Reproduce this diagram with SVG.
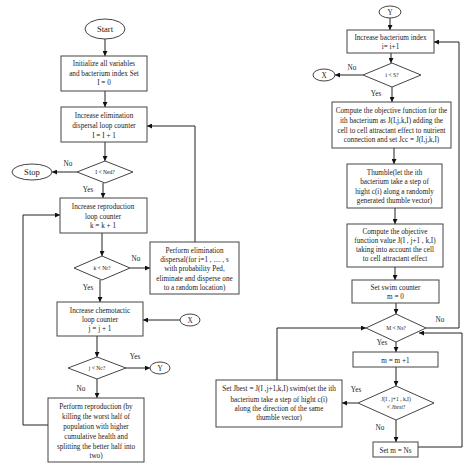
<svg xmlns="http://www.w3.org/2000/svg" width="474" height="472" viewBox="0 0 474 472" xml:space="preserve">
<defs>
<marker id="ah" markerWidth="5" markerHeight="5" refX="5" refY="2.5" orient="auto" markerUnits="userSpaceOnUse">
<path d="M0,0 L5,2.5 L0,5 z" fill="#111"/>
</marker>
</defs>
<style>
.b{fill:#fff;stroke:#444;stroke-width:1}
.c{fill:none;stroke:#222;stroke-width:1;marker-end:url(#ah)}
text{font-family:"Liberation Serif","Times New Roman",serif;font-size:7.2px;fill:#222;text-anchor:middle}
.s{font-size:5.6px}
.t{font-size:8.6px}
</style>
<rect width="474" height="472" fill="#fff"/>
<g id="connectors">
<line class="c" x1="105" y1="39" x2="105" y2="56"/>
<line class="c" x1="105" y1="91" x2="105" y2="107"/>
<line class="c" x1="105" y1="142" x2="105" y2="161"/>
<line class="c" x1="77" y1="172" x2="52" y2="172"/>
<line class="c" x1="103" y1="183" x2="103" y2="198"/>
<line class="c" x1="102" y1="233" x2="102" y2="256"/>
<line class="c" x1="130" y1="268" x2="150" y2="268"/>
<polyline class="c" points="195,242 195,126 147,126"/>
<line class="c" x1="100" y1="280" x2="100" y2="302"/>
<line class="c" x1="180" y1="320" x2="143" y2="320"/>
<line class="c" x1="97" y1="336" x2="97" y2="357"/>
<line class="c" x1="126" y1="368" x2="150" y2="368"/>
<line class="c" x1="97" y1="379" x2="97" y2="398"/>
<polyline class="c" points="48,425 23,425 23,215 60,215"/>
<line class="c" x1="390" y1="18" x2="390" y2="30"/>
<line class="c" x1="391" y1="53" x2="391" y2="63"/>
<line class="c" x1="363" y1="75" x2="335" y2="75"/>
<line class="c" x1="392" y1="87" x2="392" y2="102"/>
<line class="c" x1="394" y1="148" x2="394" y2="164"/>
<line class="c" x1="395" y1="208" x2="395" y2="224"/>
<line class="c" x1="395" y1="267" x2="395" y2="280"/>
<line class="c" x1="396" y1="303" x2="396" y2="314"/>
<polyline class="c" points="426,328 459,328 459,42 434,42"/>
<line class="c" x1="396" y1="342" x2="396" y2="352"/>
<line class="c" x1="396" y1="367" x2="396" y2="386"/>
<line class="c" x1="358" y1="403" x2="342" y2="403"/>
<polyline class="c" points="277,380 277,328 366,328"/>
<line class="c" x1="396" y1="420" x2="396" y2="442"/>
<polyline class="c" points="418,447 462,447 462,333 419,333"/>
<text x="68" y="166">No</text>
<text x="88" y="192">Yes</text>
<text x="136" y="261">No</text>
<text x="88" y="290">Yes</text>
<text x="135" y="359">Yes</text>
<text x="81" y="391">No</text>
<text x="352" y="70">No</text>
<text x="376" y="96">Yes</text>
<text x="440" y="322">No</text>
<text x="382" y="345">Yes</text>
<text x="356" y="392">Yes</text>
<text x="380" y="430">No</text>
</g>
<g id="start"><ellipse class="b" cx="105" cy="29" rx="20" ry="10"/><text class="t" x="105" y="32">Start</text></g>
<g id="init"><rect class="b" x="61" y="56" width="86" height="35"/>
<text x="104" y="65.5">Initialize all variables</text>
<text x="104" y="75.5">and bacterium index   Set</text>
<text x="104" y="84.5">I = 0</text></g>
<g id="elimcounter"><rect class="b" x="61" y="107" width="86" height="35"/>
<text x="104" y="117.5">Increase elimination</text>
<text x="104" y="127.5">dispersal loop counter</text>
<text x="104" y="137.5">I =  I + 1</text></g>
<g id="dNed"><polygon class="b" points="77,172 105,161 133,172 105,183"/><text class="s" x="105" y="174">I &lt; Ned?</text></g>
<g id="stop"><ellipse class="b" cx="32" cy="172" rx="20" ry="8"/><text class="t" x="32" y="175">Stop</text></g>
<g id="repcounter"><rect class="b" x="60" y="198" width="87" height="35"/>
<text x="103" y="208.5">Increase reproduction</text>
<text x="103" y="218.5">loop counter</text>
<text x="103" y="227.5">k =  k + 1</text></g>
<g id="dNr"><polygon class="b" points="74,268 102,256 130,268 102,280"/><text class="s" x="102" y="270">k &lt; Nr?</text></g>
<g id="elimdisp"><rect class="b" x="150" y="242" width="89" height="52"/>
<text x="194.5" y="252.5">Perform elimination</text>
<text x="194.5" y="261.5">dispersal(for i=1 , .... , s</text>
<text x="194.5" y="270.5">with probability Ped,</text>
<text x="194.5" y="280.5">eliminate  and disperse one</text>
<text x="194.5" y="289.5">to a random location)</text></g>
<g id="chemcounter"><rect class="b" x="57" y="302" width="86" height="34"/>
<text x="100" y="312.5">Increase chemotactic</text>
<text x="100" y="321.5">loop counter</text>
<text x="100" y="330.5">j =  j + 1</text></g>
<g id="xin"><ellipse class="b" cx="190" cy="320" rx="10" ry="6"/><text x="190" y="322.5">X</text></g>
<g id="dNc"><polygon class="b" points="68,368 97,357 126,368 97,379"/><text class="s" x="97" y="370">j &lt; Nc?</text></g>
<g id="yout"><ellipse class="b" cx="160" cy="368" rx="10" ry="6"/><text x="160" y="370.5">Y</text></g>
<g id="repro"><rect class="b" x="48" y="398" width="96" height="64"/>
<text x="96" y="408.5">Perform reproduction (by</text>
<text x="96" y="418.5">killing the worst half of</text>
<text x="96" y="428.5">population with higher</text>
<text x="96" y="438.5">cumulative health and</text>
<text x="96" y="448.5">splitting the better half into</text>
<text x="96" y="457.5">two)</text></g>
<g id="yin"><ellipse class="b" cx="390" cy="12" rx="11" ry="6"/><text x="390" y="14.5">Y</text></g>
<g id="bactindex"><rect class="b" x="347" y="30" width="87" height="23"/>
<text x="390.5" y="39.5">Increase bacterium index</text>
<text x="390.5" y="48.5">i= i+1</text></g>
<g id="dS"><polygon class="b" points="363,75 392,63 421,75 392,87"/><text class="s" x="392" y="77">i &lt; S?</text></g>
<g id="xout"><ellipse class="b" cx="324" cy="75" rx="11" ry="6"/><text x="324" y="77.5">X</text></g>
<g id="computeJ"><rect class="b" x="332" y="102" width="119" height="46"/>
<text x="391.5" y="112.5">Compute the objective function for the</text>
<text x="391.5" y="122.5">ith bacterium as J(I,j,k,I) adding the</text>
<text x="391.5" y="132.5">cell to cell attractant effect to nutrient</text>
<text x="391.5" y="141.5">connection and set Jcc = J(I,j,k,I)</text></g>
<g id="thumble"><rect class="b" x="347" y="164" width="95" height="44"/>
<text x="394.5" y="174.5">Thumble(let the ith</text>
<text x="394.5" y="183.5">bacterium take a step of</text>
<text x="394.5" y="193.5">hight c(i) along a randomly</text>
<text x="394.5" y="202.5">generated thumble vector)</text></g>
<g id="computeJ2"><rect class="b" x="347" y="224" width="96" height="43"/>
<text x="395" y="233.5">Compute the objective</text>
<text x="395" y="242.5">function value J(I , j+1 , k,I)</text>
<text x="395" y="251.5">taking into account the cell</text>
<text x="395" y="260.5">to cell attractant effect</text></g>
<g id="swim0"><rect class="b" x="352" y="280" width="87" height="23"/>
<text x="395.5" y="289.5">Set swim counter</text>
<text x="395.5" y="298.5">m = 0</text></g>
<g id="dNs"><polygon class="b" points="366,328 396,314 426,328 396,342"/><text class="s" x="396" y="330">M &lt; Ns?</text></g>
<g id="mplus"><rect class="b" x="353" y="352" width="85" height="15"/><text x="395.5" y="362.5">m = m +1</text></g>
<g id="dJ"><polygon class="b" points="358,403 396,386 434,403 396,420"/>
<text class="s" x="396" y="401">J(I , j+1 , k,I)</text>
<text class="s" x="396" y="409">&lt; <tspan font-style="italic">Jbest</tspan>?</text></g>
<g id="jbest"><rect class="b" x="216" y="380" width="126" height="47"/>
<text x="279" y="390.5">Set Jbest = J(I ,j+1,k,I) swim(set the ith</text>
<text x="279" y="401.5">bacterium take a step of hight c(i)</text>
<text x="279" y="410.5">along  the direction of  the same</text>
<text x="279" y="419.5">thumble vector)</text></g>
<g id="setNs"><rect class="b" x="373" y="442" width="45" height="15"/><text x="395.5" y="452.5">Set  m = Ns</text></g>
</svg>
